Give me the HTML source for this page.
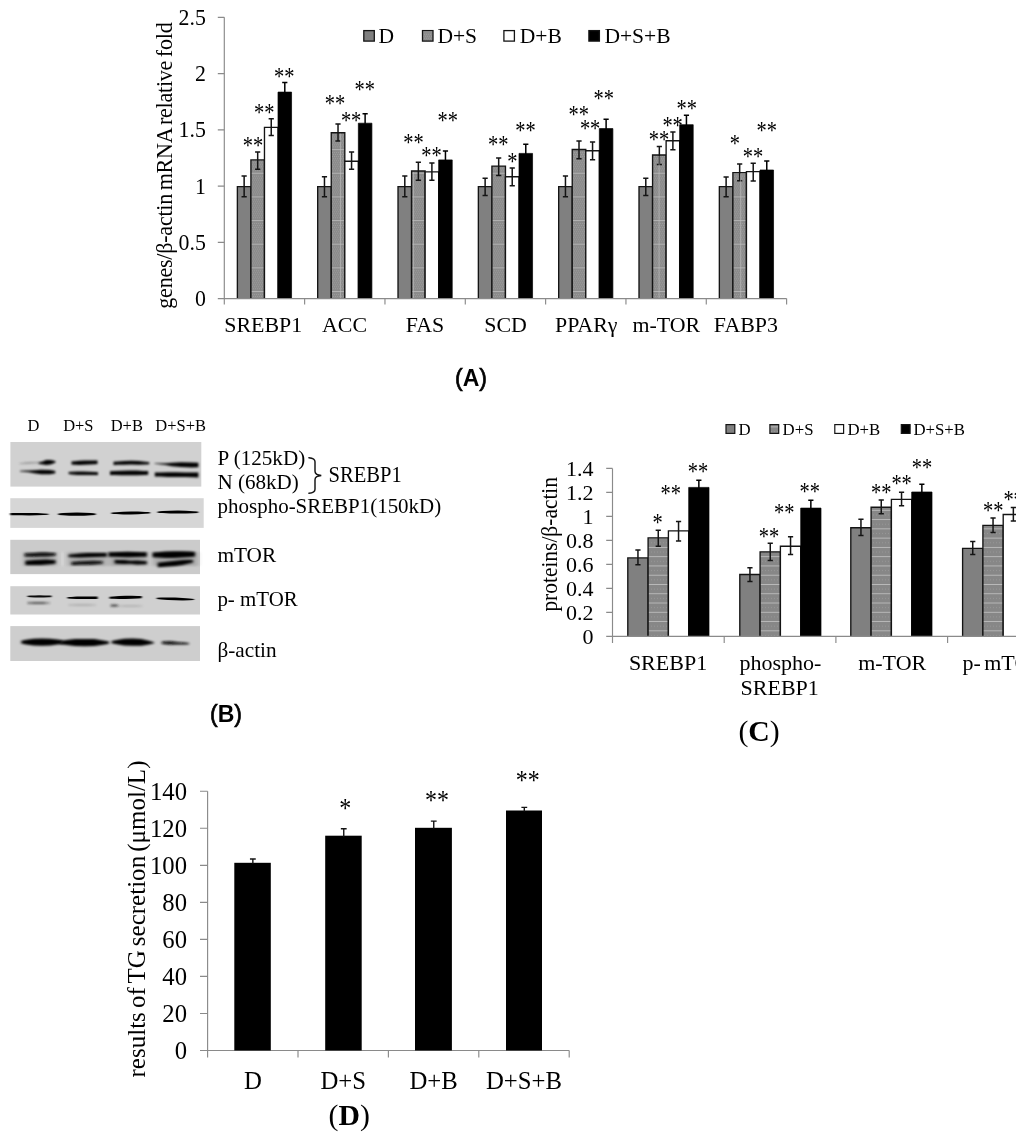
<!DOCTYPE html>
<html lang="en"><head><meta charset="utf-8"><title>Figure</title>
<style>
html,body{margin:0;padding:0;background:#fff;}
body{width:1024px;height:1135px;overflow:hidden;}
svg{display:block;}
text{font-family:"Liberation Serif","DejaVu Serif",serif;fill:#000;}
</style></head><body>
<svg width="1024" height="1135" viewBox="0 0 1024 1135">
<defs>
<pattern id="hA" x="0" y="7.2" width="2" height="23.65" patternUnits="userSpaceOnUse">
<rect width="2" height="23.65" fill="#8b8b8b"/>
<rect y="0" width="2" height="1" fill="#b2b2b2"/>
<path d="M0 3.5h1M1 5.5h1M0 7.5h1M1 9.5h1M0 11.5h1M1 13.5h1M0 15.5h1M1 17.5h1M0 19.5h1M1 21.5h1" stroke="#9c9c9c" stroke-width="1"/>
</pattern>
<pattern id="hC" x="0" y="0" width="3" height="9.27" patternUnits="userSpaceOnUse">
<rect width="3" height="9.27" fill="#878787"/>
<rect y="0" width="3" height="0.9" fill="#bcbcbc"/>
<rect x="0" y="4.6" width="1" height="1" fill="#969696"/>
</pattern>
<filter id="b1" x="-20%" y="-100%" width="140%" height="300%"><feGaussianBlur stdDeviation="1.25 0.85"/></filter>
<filter id="b2" x="-20%" y="-100%" width="140%" height="300%"><feGaussianBlur stdDeviation="1.5 1.0"/></filter>
<filter id="b4" x="-20%" y="-100%" width="140%" height="300%"><feGaussianBlur stdDeviation="1.0 0.6"/></filter>
<filter id="b3" x="-20%" y="-100%" width="140%" height="300%"><feGaussianBlur stdDeviation="2.5 1.0"/></filter>
</defs>
<rect width="1024" height="1135" fill="#fff"/>

<g id="panelA">
<text transform="translate(205.90,306.10) scale(0.975,1)" font-size="22.4" text-anchor="end">0</text>
<text transform="translate(205.90,249.85) scale(0.975,1)" font-size="22.4" text-anchor="end">0.5</text>
<text transform="translate(205.90,193.60) scale(0.975,1)" font-size="22.4" text-anchor="end">1</text>
<text transform="translate(205.90,137.35) scale(0.975,1)" font-size="22.4" text-anchor="end">1.5</text>
<text transform="translate(205.90,81.10) scale(0.975,1)" font-size="22.4" text-anchor="end">2</text>
<text transform="translate(205.90,24.85) scale(0.975,1)" font-size="22.4" text-anchor="end">2.5</text>
<path d="M237.37 298.60V186.60H250.92V298.60" fill="#808080" stroke="#141414" stroke-width="1.35"/>
<path d="M250.92 298.60V159.90H264.47V298.60" fill="url(#hA)" stroke="#141414" stroke-width="1.35"/>
<path d="M264.47 298.60V127.30H278.02V298.60" fill="#ffffff" stroke="#141414" stroke-width="1.35"/>
<path d="M278.01 298.60V92.10H291.56V298.60" fill="#000000" stroke="#000" stroke-width="0.7"/>
<path d="M244.14 175.90V196.80M241.54 175.90H246.74M241.54 196.80H246.74" stroke="#141414" stroke-width="1.5" fill="none"/>
<path d="M257.69 151.90V169.20M255.09 151.90H260.29M255.09 169.20H260.29" stroke="#141414" stroke-width="1.5" fill="none"/>
<path d="M271.24 118.70V135.60M268.64 118.70H273.84M268.64 135.60H273.84" stroke="#141414" stroke-width="1.5" fill="none"/>
<path d="M284.79 82.50V92.60M282.19 82.50H287.39" stroke="#000" stroke-width="1.5" fill="none"/>
<text transform="translate(263.20,331.90) scale(1.0,1)" font-size="21.9" text-anchor="middle">SREBP1</text>
<path d="M317.69 298.60V186.60H331.25V298.60" fill="#808080" stroke="#141414" stroke-width="1.35"/>
<path d="M331.25 298.60V132.70H344.80V298.60" fill="url(#hA)" stroke="#141414" stroke-width="1.35"/>
<path d="M344.80 298.60V161.20H358.35V298.60" fill="#ffffff" stroke="#141414" stroke-width="1.35"/>
<path d="M358.35 298.60V123.20H371.90V298.60" fill="#000000" stroke="#000" stroke-width="0.7"/>
<path d="M324.47 176.70V196.80M321.87 176.70H327.07M321.87 196.80H327.07" stroke="#141414" stroke-width="1.5" fill="none"/>
<path d="M338.02 124.10V141.10M335.42 124.10H340.62M335.42 141.10H340.62" stroke="#141414" stroke-width="1.5" fill="none"/>
<path d="M351.57 151.90V169.20M348.97 151.90H354.17M348.97 169.20H354.17" stroke="#141414" stroke-width="1.5" fill="none"/>
<path d="M365.12 113.80V123.70M362.52 113.80H367.72" stroke="#000" stroke-width="1.5" fill="none"/>
<text transform="translate(344.50,331.90) scale(1.0,1)" font-size="21.9" text-anchor="middle">ACC</text>
<path d="M398.02 298.60V186.60H411.57V298.60" fill="#808080" stroke="#141414" stroke-width="1.35"/>
<path d="M411.57 298.60V171.00H425.12V298.60" fill="url(#hA)" stroke="#141414" stroke-width="1.35"/>
<path d="M425.12 298.60V171.80H438.68V298.60" fill="#ffffff" stroke="#141414" stroke-width="1.35"/>
<path d="M438.67 298.60V159.90H452.22V298.60" fill="#000000" stroke="#000" stroke-width="0.7"/>
<path d="M404.80 175.90V196.80M402.20 175.90H407.40M402.20 196.80H407.40" stroke="#141414" stroke-width="1.5" fill="none"/>
<path d="M418.35 162.20V180.20M415.75 162.20H420.95M415.75 180.20H420.95" stroke="#141414" stroke-width="1.5" fill="none"/>
<path d="M431.90 163.00V180.20M429.30 163.00H434.50M429.30 180.20H434.50" stroke="#141414" stroke-width="1.5" fill="none"/>
<path d="M445.45 151.10V160.40M442.85 151.10H448.05" stroke="#000" stroke-width="1.5" fill="none"/>
<text transform="translate(425.00,331.90) scale(1.0,1)" font-size="21.9" text-anchor="middle">FAS</text>
<path d="M478.36 298.60V186.60H491.91V298.60" fill="#808080" stroke="#141414" stroke-width="1.35"/>
<path d="M491.91 298.60V166.10H505.46V298.60" fill="url(#hA)" stroke="#141414" stroke-width="1.35"/>
<path d="M505.46 298.60V176.70H519.00V298.60" fill="#ffffff" stroke="#141414" stroke-width="1.35"/>
<path d="M519.00 298.60V153.40H532.55V298.60" fill="#000000" stroke="#000" stroke-width="0.7"/>
<path d="M485.13 178.20V195.40M482.53 178.20H487.73M482.53 195.40H487.73" stroke="#141414" stroke-width="1.5" fill="none"/>
<path d="M498.68 158.10V175.50M496.08 158.10H501.28M496.08 175.50H501.28" stroke="#141414" stroke-width="1.5" fill="none"/>
<path d="M512.23 168.10V185.80M509.63 168.10H514.83M509.63 185.80H514.83" stroke="#141414" stroke-width="1.5" fill="none"/>
<path d="M525.78 144.30V153.90M523.18 144.30H528.38" stroke="#000" stroke-width="1.5" fill="none"/>
<text transform="translate(505.50,331.90) scale(1.0,1)" font-size="21.9" text-anchor="middle">SCD</text>
<path d="M558.68 298.60V186.60H572.23V298.60" fill="#808080" stroke="#141414" stroke-width="1.35"/>
<path d="M572.23 298.60V149.50H585.78V298.60" fill="url(#hA)" stroke="#141414" stroke-width="1.35"/>
<path d="M585.78 298.60V150.70H599.33V298.60" fill="#ffffff" stroke="#141414" stroke-width="1.35"/>
<path d="M599.33 298.60V128.60H612.88V298.60" fill="#000000" stroke="#000" stroke-width="0.7"/>
<path d="M565.46 175.90V196.80M562.86 175.90H568.06M562.86 196.80H568.06" stroke="#141414" stroke-width="1.5" fill="none"/>
<path d="M579.01 140.90V158.70M576.41 140.90H581.61M576.41 158.70H581.61" stroke="#141414" stroke-width="1.5" fill="none"/>
<path d="M592.56 141.90V159.80M589.96 141.90H595.16M589.96 159.80H595.16" stroke="#141414" stroke-width="1.5" fill="none"/>
<path d="M606.11 119.30V129.10M603.51 119.30H608.71" stroke="#000" stroke-width="1.5" fill="none"/>
<text transform="translate(586.20,331.90) scale(1.0,1)" font-size="21.9" text-anchor="middle">PPARγ</text>
<path d="M639.01 298.60V186.60H652.56V298.60" fill="#808080" stroke="#141414" stroke-width="1.35"/>
<path d="M652.56 298.60V155.00H666.11V298.60" fill="url(#hA)" stroke="#141414" stroke-width="1.35"/>
<path d="M666.12 298.60V140.70H679.66V298.60" fill="#ffffff" stroke="#141414" stroke-width="1.35"/>
<path d="M679.66 298.60V124.70H693.21V298.60" fill="#000000" stroke="#000" stroke-width="0.7"/>
<path d="M645.79 178.20V195.40M643.19 178.20H648.39M643.19 195.40H648.39" stroke="#141414" stroke-width="1.5" fill="none"/>
<path d="M659.34 146.40V164.50M656.74 146.40H661.94M656.74 164.50H661.94" stroke="#141414" stroke-width="1.5" fill="none"/>
<path d="M672.89 132.00V149.70M670.29 132.00H675.49M670.29 149.70H675.49" stroke="#141414" stroke-width="1.5" fill="none"/>
<path d="M686.44 115.20V125.20M683.84 115.20H689.04" stroke="#000" stroke-width="1.5" fill="none"/>
<text transform="translate(666.30,331.90) scale(1.0,1)" font-size="21.9" text-anchor="middle">m-TOR</text>
<path d="M719.35 298.60V186.60H732.89V298.60" fill="#808080" stroke="#141414" stroke-width="1.35"/>
<path d="M732.89 298.60V172.60H746.44V298.60" fill="url(#hA)" stroke="#141414" stroke-width="1.35"/>
<path d="M746.45 298.60V171.60H760.00V298.60" fill="#ffffff" stroke="#141414" stroke-width="1.35"/>
<path d="M760.00 298.60V170.00H773.54V298.60" fill="#000000" stroke="#000" stroke-width="0.7"/>
<path d="M726.12 176.90V196.80M723.52 176.90H728.72M723.52 196.80H728.72" stroke="#141414" stroke-width="1.5" fill="none"/>
<path d="M739.67 164.00V180.70M737.07 164.00H742.27M737.07 180.70H742.27" stroke="#141414" stroke-width="1.5" fill="none"/>
<path d="M753.22 163.20V180.90M750.62 163.20H755.82M750.62 180.90H755.82" stroke="#141414" stroke-width="1.5" fill="none"/>
<path d="M766.77 161.10V170.50M764.17 161.10H769.37" stroke="#000" stroke-width="1.5" fill="none"/>
<text transform="translate(745.90,331.90) scale(1.0,1)" font-size="21.9" text-anchor="middle">FABP3</text>
<path d="M340.6 133.7V298.1" stroke="#c0c0c0" stroke-width="0.8" opacity="0.75"/>
<path d="M413.6 172.0V298.1" stroke="#c0c0c0" stroke-width="0.8" opacity="0.75"/>
<path d="M659.1 156.0V298.1" stroke="#c0c0c0" stroke-width="0.8" opacity="0.75"/>
<path d="M740.7 173.6V298.1" stroke="#c0c0c0" stroke-width="0.8" opacity="0.75"/>
<path d="M224.3 17.35V304.6M217.8 298.6H786.61" stroke="#8a8a8a" stroke-width="1.15" fill="none"/>
<path d="M217.8 242.35H224.3M217.8 186.10H224.3M217.8 129.85H224.3M217.8 73.60H224.3M217.8 17.35H224.3M304.63 298.6V304.6M384.96 298.6V304.6M465.29 298.6V304.6M545.62 298.6V304.6M625.95 298.6V304.6M706.28 298.6V304.6M786.61 298.6V304.6" stroke="#8a8a8a" stroke-width="1.15" fill="none"/>
<text transform="translate(253.00,153.90) scale(0.787,1)" font-size="26" text-anchor="middle">**</text>
<text transform="translate(264.15,120.90) scale(0.787,1)" font-size="26" text-anchor="middle">**</text>
<text transform="translate(284.30,84.80) scale(0.787,1)" font-size="26" text-anchor="middle">**</text>
<text transform="translate(335.05,111.90) scale(0.787,1)" font-size="26" text-anchor="middle">**</text>
<text transform="translate(351.10,128.70) scale(0.787,1)" font-size="26" text-anchor="middle">**</text>
<text transform="translate(364.75,97.50) scale(0.787,1)" font-size="26" text-anchor="middle">**</text>
<text transform="translate(413.50,151.20) scale(0.787,1)" font-size="26" text-anchor="middle">**</text>
<text transform="translate(431.50,164.30) scale(0.787,1)" font-size="26" text-anchor="middle">**</text>
<text transform="translate(447.70,129.10) scale(0.787,1)" font-size="26" text-anchor="middle">**</text>
<text transform="translate(498.30,152.90) scale(0.787,1)" font-size="26" text-anchor="middle">**</text>
<text transform="translate(512.30,170.10) scale(0.787,1)" font-size="26" text-anchor="middle">*</text>
<text transform="translate(525.40,138.90) scale(0.787,1)" font-size="26" text-anchor="middle">**</text>
<text transform="translate(578.70,122.90) scale(0.787,1)" font-size="26" text-anchor="middle">**</text>
<text transform="translate(590.10,137.30) scale(0.787,1)" font-size="26" text-anchor="middle">**</text>
<text transform="translate(603.70,107.20) scale(0.787,1)" font-size="26" text-anchor="middle">**</text>
<text transform="translate(659.00,148.20) scale(0.787,1)" font-size="26" text-anchor="middle">**</text>
<text transform="translate(672.60,133.60) scale(0.787,1)" font-size="26" text-anchor="middle">**</text>
<text transform="translate(686.70,117.00) scale(0.787,1)" font-size="26" text-anchor="middle">**</text>
<text transform="translate(734.80,151.60) scale(0.787,1)" font-size="26" text-anchor="middle">*</text>
<text transform="translate(753.00,165.20) scale(0.787,1)" font-size="26" text-anchor="middle">**</text>
<text transform="translate(766.70,139.30) scale(0.787,1)" font-size="26" text-anchor="middle">**</text>
<rect x="363.8" y="30.6" width="10.5" height="10.5" fill="#808080" stroke="#141414" stroke-width="1.3"/>
<text transform="translate(378.60,43.10) scale(0.985,1)" font-size="21.9">D</text>
<rect x="422.5" y="30.6" width="10.5" height="10.5" fill="url(#hA)" stroke="#141414" stroke-width="1.3"/>
<text transform="translate(437.40,43.10) scale(0.985,1)" font-size="21.9">D+S</text>
<rect x="503.9" y="30.6" width="10.5" height="10.5" fill="#fff" stroke="#141414" stroke-width="1.3"/>
<text transform="translate(519.70,43.10) scale(0.985,1)" font-size="21.9">D+B</text>
<rect x="588.9" y="30.6" width="10.5" height="10.5" fill="#000" stroke="#141414" stroke-width="1.3"/>
<text transform="translate(604.40,43.10) scale(0.985,1)" font-size="21.9">D+S+B</text>
<text transform="translate(171.7,165.5) rotate(-90) scale(1,1.05)" text-anchor="middle" font-size="22.1" word-spacing="-1.6" textLength="286.4" lengthAdjust="spacing">genes/β-actin mRNA relative fold</text>
<text transform="translate(471.00,385.90) scale(0.97,1)" font-size="23.8" text-anchor="middle" style='font-family:"Liberation Sans", "DejaVu Sans", sans-serif' font-weight="bold"><tspan font-weight="normal" stroke="#000" stroke-width="0.7">(</tspan>A<tspan font-weight="normal" stroke="#000" stroke-width="0.7">)</tspan></text>
</g>
<g id="panelB">
<text transform="translate(33.40,430.80) scale(1.045,1)" font-size="15.8" text-anchor="middle">D</text>
<text transform="translate(78.35,430.80) scale(1.045,1)" font-size="15.8" text-anchor="middle">D+S</text>
<text transform="translate(126.80,430.80) scale(1.045,1)" font-size="15.8" text-anchor="middle">D+B</text>
<text transform="translate(180.65,430.80) scale(1.045,1)" font-size="15.8" text-anchor="middle">D+S+B</text>
<rect x="10.4" y="442.0" width="190.9" height="44.6" fill="#d1d1d1"/>
<rect x="10.3" y="498.2" width="193.4" height="29.7" fill="#d6d6d6"/>
<rect x="10.3" y="539.8" width="189.7" height="34.3" fill="#cbcbcb"/>
<rect x="10.3" y="586.2" width="189.7" height="28.3" fill="#d0d0d0"/>
<rect x="10.3" y="626.1" width="189.7" height="34.9" fill="#cecece"/>
<polygon points="19.3,463.2 22.0,463.0 26.1,462.6 30.6,462.3 35.2,462.2 39.3,462.1 42.0,462.0 42.0,463.2 39.3,463.3 35.2,463.3 30.6,463.5 26.1,463.7 22.0,463.8 19.3,463.8" fill="#444" opacity="0.55" filter="url(#b1)"/>
<polygon points="38.5,462.9 41.9,461.7 46.1,460.1 50.4,460.0 53.8,460.7 55.5,461.3 55.5,462.5 53.8,463.3 50.4,464.4 46.1,464.9 41.9,464.3 38.5,463.7" fill="#000" opacity="1.0" filter="url(#b1)"/>
<polygon points="19.9,470.7 28.8,470.6 34.1,470.2 41.1,469.8 50.0,470.0 55.3,471.0 55.3,473.2 50.0,474.2 41.1,474.2 34.1,473.2 28.8,472.2 19.9,471.5" fill="#000" opacity="1.0" filter="url(#b1)"/>
<polygon points="71.5,461.6 74.6,461.2 79.3,460.7 84.5,460.4 89.7,460.4 94.4,460.5 97.5,460.5 97.5,464.1 94.4,464.2 89.7,464.6 84.5,464.8 79.3,464.9 74.6,464.8 71.5,464.6" fill="#000" opacity="1.0" filter="url(#b1)"/>
<polygon points="68.6,472.0 72.1,471.8 77.4,471.5 83.3,471.5 89.2,471.7 94.5,472.0 98.0,472.2 98.0,475.0 94.5,475.1 89.2,475.1 83.3,475.1 77.4,474.9 72.1,474.4 68.6,474.0" fill="#000" opacity="1.0" filter="url(#b1)"/>
<polygon points="113.5,461.7 117.8,461.5 124.2,461.1 131.4,460.8 138.6,461.0 145.0,461.7 149.3,462.2 149.3,464.2 145.0,464.5 138.6,464.8 131.4,464.6 124.2,464.8 117.8,464.8 113.5,464.9" fill="#000" opacity="1.0" filter="url(#b1)"/>
<polygon points="110.0,471.3 114.6,471.1 121.5,470.7 129.1,470.5 136.7,470.6 143.6,470.9 148.2,471.0 148.2,474.8 143.6,474.9 136.7,475.2 129.1,475.3 121.5,475.3 114.6,475.0 110.0,474.9" fill="#000" opacity="1.0" filter="url(#b1)"/>
<polygon points="154.5,463.2 165.5,463.3 172.1,462.7 180.8,462.3 191.8,462.4 198.4,462.8 198.4,467.2 191.8,467.4 180.8,467.1 172.1,466.3 165.5,464.9 154.5,463.8" fill="#000" opacity="1.0" filter="url(#b1)"/>
<polygon points="154.8,472.4 160.0,472.4 167.9,472.3 176.6,472.3 185.3,472.5 193.2,472.5 198.4,472.6 198.4,477.4 193.2,477.3 185.3,477.1 176.6,477.1 167.9,476.9 160.0,476.6 154.8,476.4" fill="#000" opacity="1.0" filter="url(#b1)"/>
<polygon points="10.3,513.1 14.9,513.1 21.7,513.1 29.3,513.0 37.0,513.1 43.8,513.4 48.4,513.7 48.4,514.7 43.8,515.0 37.0,515.3 29.3,515.4 21.7,515.3 14.9,515.3 10.3,515.3" fill="#000" opacity="1.0" filter="url(#b4)"/>
<polygon points="58.3,513.4 62.8,513.1 69.5,512.7 76.9,512.6 84.4,512.7 91.1,513.1 95.6,513.4 95.6,515.0 91.1,515.3 84.4,515.7 76.9,515.8 69.5,515.7 62.8,515.3 58.3,515.0" fill="#000" opacity="1.0" filter="url(#b4)"/>
<polygon points="111.6,512.5 116.2,512.2 123.1,511.8 130.8,511.6 138.4,511.6 145.3,511.9 149.9,512.1 149.9,513.5 145.3,513.8 138.4,514.2 130.8,514.4 123.1,514.4 116.2,514.1 111.6,513.9" fill="#000" opacity="1.0" filter="url(#b4)"/>
<polygon points="157.7,511.4 162.5,511.1 169.8,510.7 177.9,510.6 186.0,510.8 193.3,511.2 198.1,511.6 198.1,513.1 193.3,513.3 186.0,513.6 177.9,513.6 169.8,513.5 162.5,513.1 157.7,512.9" fill="#000" opacity="1.0" filter="url(#b4)"/>
<rect x="24" y="552" width="32" height="14" fill="#555" opacity="0.28" filter="url(#b3)"/>
<rect x="68" y="552" width="39" height="14" fill="#555" opacity="0.28" filter="url(#b3)"/>
<rect x="109" y="552" width="38" height="14" fill="#555" opacity="0.28" filter="url(#b3)"/>
<rect x="153" y="552" width="45" height="14" fill="#555" opacity="0.28" filter="url(#b3)"/>
<polygon points="24.6,553.4 28.3,553.2 33.9,552.9 40.1,552.6 46.3,552.6 51.9,552.9 55.6,553.1 55.6,555.5 51.9,555.9 46.3,556.4 40.1,556.6 33.9,556.7 28.3,556.6 24.6,556.6" fill="#0a0a0a" opacity="1.0" filter="url(#b2)"/>
<polygon points="25.4,560.7 29.0,560.5 34.5,560.0 40.5,559.7 46.5,559.6 52.0,559.9 55.6,560.2 55.6,563.4 52.0,563.9 46.5,564.6 40.5,564.9 34.5,565.0 29.0,564.9 25.4,564.9" fill="#000" opacity="1.0" filter="url(#b2)"/>
<polygon points="68.5,554.8 73.1,554.2 80.0,553.4 87.7,553.1 95.3,553.0 102.2,553.0 106.8,552.9 106.8,556.7 102.2,556.8 95.3,557.0 87.7,557.3 80.0,557.4 73.1,557.2 68.5,556.9" fill="#000" opacity="1.0" filter="url(#b2)"/>
<polygon points="71.6,561.9 75.3,561.7 80.9,561.2 87.2,560.9 93.4,560.8 99.0,561.1 102.7,561.3 102.7,563.5 99.0,563.9 93.4,564.4 87.2,564.7 80.9,564.8 75.3,564.9 71.6,564.9" fill="#0a0a0a" opacity="1.0" filter="url(#b2)"/>
<polygon points="108.5,552.3 113.1,552.2 120.0,551.9 127.7,551.8 135.3,551.9 142.2,552.2 146.8,552.3 146.8,556.7 142.2,556.8 135.3,557.1 127.7,557.2 120.0,557.1 113.1,556.8 108.5,556.7" fill="#000" opacity="1.0" filter="url(#b2)"/>
<polygon points="114.6,559.8 118.5,559.9 124.3,560.0 130.7,560.7 137.1,560.4 142.9,560.9 146.8,561.2 146.8,564.2 142.9,564.3 137.1,564.4 130.7,563.7 124.3,564.0 118.5,563.7 114.6,563.6" fill="#000" opacity="1.0" filter="url(#b2)"/>
<polygon points="152.6,552.6 157.7,552.2 165.3,551.6 173.8,551.3 182.3,551.3 189.9,551.6 195.0,551.9 195.0,556.5 189.9,556.9 182.3,557.6 173.8,557.9 165.3,557.9 157.7,557.5 152.6,557.2" fill="#000" opacity="1.0" filter="url(#b2)"/>
<polygon points="157.7,562.7 161.9,562.3 168.3,561.6 175.3,560.8 182.4,560.0 188.8,559.8 193.0,559.9 193.0,562.5 188.8,563.5 182.4,565.0 175.3,566.0 168.3,566.5 161.9,567.0 157.7,567.3" fill="#000" opacity="1.0" filter="url(#b2)"/>
<rect x="61.7" y="552" width="1.6" height="14" fill="#e6e6e6" opacity="0.6" filter="url(#b1)"/>
<polygon points="27.5,595.7 30.4,595.6 34.7,595.4 39.5,595.3 44.3,595.4 48.6,595.5 51.5,595.6 51.5,597.2 48.6,597.3 44.3,597.4 39.5,597.5 34.7,597.4 30.4,597.2 27.5,597.1" fill="#000" opacity="0.95" filter="url(#b4)"/>
<polygon points="27.5,602.2 30.2,602.2 34.4,602.1 39.0,602.1 43.5,602.1 47.7,602.5 50.4,602.7 50.4,603.3 47.7,603.5 43.5,603.9 39.0,603.9 34.4,603.9 30.2,603.8 27.5,603.8" fill="#222" opacity="0.7" filter="url(#b1)"/>
<polygon points="67.5,597.1 71.1,596.9 76.5,596.6 82.5,596.5 88.6,596.6 94.0,596.6 97.6,596.6 97.6,599.0 94.0,599.0 88.6,599.0 82.5,599.1 76.5,599.0 71.1,598.7 67.5,598.4" fill="#000" opacity="1.0" filter="url(#b4)"/>
<polygon points="68.5,604.4 71.9,604.4 76.9,604.3 82.5,604.3 88.1,604.3 93.1,604.6 96.5,604.8 96.5,605.2 93.1,605.4 88.1,605.7 82.5,605.7 76.9,605.7 71.9,605.6 68.5,605.6" fill="#555" opacity="0.35" filter="url(#b1)"/>
<polygon points="109.5,596.7 113.4,596.4 119.2,596.0 125.6,595.8 132.0,595.8 137.8,596.0 141.7,596.1 141.7,598.3 137.8,598.5 132.0,598.8 125.6,599.0 119.2,599.0 113.4,598.8 109.5,598.7" fill="#000" opacity="1.0" filter="url(#b4)"/>
<polygon points="110.5,604.7 111.5,604.7 112.9,604.6 114.5,604.5 116.1,604.6 117.5,604.9 118.5,605.2 118.5,606.0 117.5,606.3 116.1,606.6 114.5,606.7 112.9,606.6 111.5,606.5 110.5,606.5" fill="#222" opacity="0.8" filter="url(#b1)"/>
<polygon points="118.0,605.6 121.0,605.4 125.5,605.2 130.5,605.2 135.5,605.2 140.0,605.5 143.0,605.8 143.0,606.2 140.0,606.5 135.5,606.8 130.5,606.8 125.5,606.8 121.0,606.6 118.0,606.4" fill="#666" opacity="0.35" filter="url(#b1)"/>
<polygon points="156.7,597.7 161.2,597.6 167.9,597.4 175.3,597.5 182.8,597.9 189.5,598.6 194.0,599.1 194.0,600.1 189.5,600.3 182.8,600.5 175.3,600.2 167.9,600.0 161.2,599.4 156.7,599.1" fill="#000" opacity="1.0" filter="url(#b4)"/>
<polygon points="21.3,640.7 26.2,639.8 33.7,638.7 41.9,638.5 50.1,638.7 57.6,639.6 62.5,640.3 62.5,643.9 57.6,644.6 50.1,645.5 41.9,645.7 33.7,645.5 26.2,644.4 21.3,643.5" fill="#000" opacity="1.0" filter="url(#b2)"/>
<polygon points="60.5,640.9 66.3,640.1 75.0,639.1 84.7,638.9 94.4,639.1 103.1,640.4 108.9,641.5 108.9,643.7 103.1,644.8 94.4,646.1 84.7,646.3 75.0,646.1 66.3,645.1 60.5,644.3" fill="#000" opacity="1.0" filter="url(#b2)"/>
<polygon points="111.6,641.0 116.7,639.9 124.3,638.7 132.8,638.5 141.3,638.9 148.9,640.7 154.0,642.2 154.0,643.2 148.9,644.5 141.3,645.8 132.8,645.7 124.3,645.5 116.7,644.3 111.6,643.2" fill="#000" opacity="1.0" filter="url(#b2)"/>
<polygon points="161.8,641.4 170.0,641.1 178.1,641.9 184.9,642.4 189.0,643.0 189.0,644.2 184.9,644.6 178.1,644.5 170.0,644.7 161.8,644.0" fill="#0a0a0a" opacity="0.95" filter="url(#b2)"/>
<text transform="translate(217.40,464.90) scale(1.045,1)" font-size="21.4" textLength="84.02" lengthAdjust="spacingAndGlyphs">P (125kD)</text>
<text transform="translate(217.40,489.30) scale(1.045,1)" font-size="21.4" textLength="77.89" lengthAdjust="spacingAndGlyphs">N (68kD)</text>
<text transform="translate(328.60,481.80) scale(1.045,1)" font-size="22.3" textLength="70.05" lengthAdjust="spacingAndGlyphs">SREBP1</text>
<text transform="translate(217.60,513.10) scale(1.045,1)" font-size="21.4" textLength="213.97" lengthAdjust="spacingAndGlyphs">phospho-SREBP1(150kD)</text>
<text transform="translate(217.40,561.80) scale(1.045,1)" font-size="21.4" textLength="56.27" lengthAdjust="spacingAndGlyphs">mTOR</text>
<text transform="translate(217.40,605.80) scale(1.045,1)" font-size="21.4" textLength="76.94" lengthAdjust="spacingAndGlyphs">p- mTOR</text>
<text transform="translate(217.40,656.60) scale(1.045,1)" font-size="21.4" textLength="56.65" lengthAdjust="spacingAndGlyphs">β-actin</text>
<path d="M308.9 457.7 Q315 458.2 315 461.8 V471.3 Q315 475 321.3 475.5 Q315 476 315 479.7 V489.2 Q315 492.8 308.9 493.3" stroke="#141414" stroke-width="1.45" fill="none" stroke-linecap="round"/>
<text transform="translate(226.00,722.00) scale(0.97,1)" font-size="23.8" text-anchor="middle" style='font-family:"Liberation Sans", "DejaVu Sans", sans-serif' font-weight="bold"><tspan font-weight="normal" stroke="#000" stroke-width="0.7">(</tspan>B<tspan font-weight="normal" stroke="#000" stroke-width="0.7">)</tspan></text>
</g>
<g id="panelC"><clipPath id="clipC"><rect x="0" y="400" width="1016" height="360"/></clipPath><g clip-path="url(#clipC)">
<text transform="translate(593.40,643.60) scale(1.02,1)" font-size="21.6" text-anchor="end">0</text>
<text transform="translate(593.40,619.60) scale(1.02,1)" font-size="21.6" text-anchor="end">0.2</text>
<text transform="translate(593.40,595.60) scale(1.02,1)" font-size="21.6" text-anchor="end">0.4</text>
<text transform="translate(593.40,571.60) scale(1.02,1)" font-size="21.6" text-anchor="end">0.6</text>
<text transform="translate(593.40,547.60) scale(1.02,1)" font-size="21.6" text-anchor="end">0.8</text>
<text transform="translate(593.40,523.60) scale(1.02,1)" font-size="21.6" text-anchor="end">1</text>
<text transform="translate(593.40,499.60) scale(1.02,1)" font-size="21.6" text-anchor="end">1.2</text>
<text transform="translate(593.40,475.60) scale(1.02,1)" font-size="21.6" text-anchor="end">1.4</text>
<path d="M627.80 636.40V557.90H648.10V636.40" fill="#808080" stroke="#141414" stroke-width="1.35"/>
<path d="M648.10 636.40V537.80H668.40V636.40" fill="url(#hC)" stroke="#141414" stroke-width="1.35"/>
<path d="M668.40 636.40V530.90H688.70V636.40" fill="#ffffff" stroke="#141414" stroke-width="1.35"/>
<path d="M688.70 636.40V487.40H709.00V636.40" fill="#000000" stroke="#000" stroke-width="0.7"/>
<path d="M637.95 550.10V564.70M635.35 550.10H640.55M635.35 564.70H640.55" stroke="#141414" stroke-width="1.5" fill="none"/>
<path d="M658.25 530.20V546.30M655.65 530.20H660.85M655.65 546.30H660.85" stroke="#141414" stroke-width="1.5" fill="none"/>
<path d="M678.55 521.40V540.90M675.95 521.40H681.15M675.95 540.90H681.15" stroke="#141414" stroke-width="1.5" fill="none"/>
<path d="M698.85 480.30V487.90M696.25 480.30H701.45" stroke="#000" stroke-width="1.5" fill="none"/>
<path d="M739.80 636.40V574.50H760.10V636.40" fill="#808080" stroke="#141414" stroke-width="1.35"/>
<path d="M760.10 636.40V551.80H780.40V636.40" fill="url(#hC)" stroke="#141414" stroke-width="1.35"/>
<path d="M780.40 636.40V546.20H800.70V636.40" fill="#ffffff" stroke="#141414" stroke-width="1.35"/>
<path d="M800.70 636.40V508.10H821.00V636.40" fill="#000000" stroke="#000" stroke-width="0.7"/>
<path d="M749.95 567.70V581.50M747.35 567.70H752.55M747.35 581.50H752.55" stroke="#141414" stroke-width="1.5" fill="none"/>
<path d="M770.25 543.20V560.40M767.65 543.20H772.85M767.65 560.40H772.85" stroke="#141414" stroke-width="1.5" fill="none"/>
<path d="M790.55 536.80V554.50M787.95 536.80H793.15M787.95 554.50H793.15" stroke="#141414" stroke-width="1.5" fill="none"/>
<path d="M810.85 500.30V508.60M808.25 500.30H813.45" stroke="#000" stroke-width="1.5" fill="none"/>
<path d="M850.80 636.40V527.70H871.10V636.40" fill="#808080" stroke="#141414" stroke-width="1.35"/>
<path d="M871.10 636.40V507.20H891.40V636.40" fill="url(#hC)" stroke="#141414" stroke-width="1.35"/>
<path d="M891.40 636.40V499.30H911.70V636.40" fill="#ffffff" stroke="#141414" stroke-width="1.35"/>
<path d="M911.70 636.40V492.00H932.00V636.40" fill="#000000" stroke="#000" stroke-width="0.7"/>
<path d="M860.95 519.20V535.40M858.35 519.20H863.55M858.35 535.40H863.55" stroke="#141414" stroke-width="1.5" fill="none"/>
<path d="M881.25 500.10V513.70M878.65 500.10H883.85M878.65 513.70H883.85" stroke="#141414" stroke-width="1.5" fill="none"/>
<path d="M901.55 492.20V505.70M898.95 492.20H904.15M898.95 505.70H904.15" stroke="#141414" stroke-width="1.5" fill="none"/>
<path d="M921.85 484.20V492.50M919.25 484.20H924.45" stroke="#000" stroke-width="1.5" fill="none"/>
<path d="M962.60 636.40V548.40H982.90V636.40" fill="#808080" stroke="#141414" stroke-width="1.35"/>
<path d="M982.90 636.40V525.30H1003.20V636.40" fill="url(#hC)" stroke="#141414" stroke-width="1.35"/>
<path d="M1003.20 636.40V514.50H1023.50V636.40" fill="#ffffff" stroke="#141414" stroke-width="1.35"/>
<path d="M1023.50 636.40V500.50H1043.80V636.40" fill="#000000" stroke="#000" stroke-width="0.7"/>
<path d="M972.75 541.50V554.50M970.15 541.50H975.35M970.15 554.50H975.35" stroke="#141414" stroke-width="1.5" fill="none"/>
<path d="M993.05 517.90V532.50M990.45 517.90H995.65M990.45 532.50H995.65" stroke="#141414" stroke-width="1.5" fill="none"/>
<path d="M1013.35 507.40V521.10M1010.75 507.40H1015.95M1010.75 521.10H1015.95" stroke="#141414" stroke-width="1.5" fill="none"/>
<path d="M1033.65 493.70V501.00M1031.05 493.70H1036.25" stroke="#000" stroke-width="1.5" fill="none"/>
<path d="M612.5 468.40V642.9M606.2 636.4H1030" stroke="#8a8a8a" stroke-width="1.15" fill="none"/>
<path d="M606.2 612.40H612.5M606.2 588.40H612.5M606.2 564.40H612.5M606.2 540.40H612.5M606.2 516.40H612.5M606.2 492.40H612.5M606.2 468.40H612.5M724.20 636.4V642.9M835.90 636.4V642.9M947.60 636.4V642.9" stroke="#8a8a8a" stroke-width="1.15" fill="none"/>
<text transform="translate(668.00,670.20) scale(1.0,1)" font-size="22" text-anchor="middle">SREBP1</text>
<text transform="translate(780.40,670.20) scale(1.0,1)" font-size="22" text-anchor="middle">phospho-</text>
<text transform="translate(779.70,694.60) scale(1.0,1)" font-size="22" text-anchor="middle">SREBP1</text>
<text transform="translate(892.20,670.00) scale(1.0,1)" font-size="22" text-anchor="middle">m-TOR</text>
<text transform="translate(962.60,670.00) scale(1.0,1)" font-size="22" word-spacing="-2.2">p- mTOR</text>
<text transform="translate(657.70,531.40) scale(0.787,1)" font-size="26" text-anchor="middle">*</text>
<text transform="translate(670.80,502.10) scale(0.787,1)" font-size="26" text-anchor="middle">**</text>
<text transform="translate(697.90,479.60) scale(0.787,1)" font-size="26" text-anchor="middle">**</text>
<text transform="translate(769.00,544.50) scale(0.787,1)" font-size="26" text-anchor="middle">**</text>
<text transform="translate(784.20,521.40) scale(0.787,1)" font-size="26" text-anchor="middle">**</text>
<text transform="translate(809.70,500.20) scale(0.787,1)" font-size="26" text-anchor="middle">**</text>
<text transform="translate(881.20,500.80) scale(0.787,1)" font-size="26" text-anchor="middle">**</text>
<text transform="translate(901.60,492.10) scale(0.787,1)" font-size="26" text-anchor="middle">**</text>
<text transform="translate(922.00,476.10) scale(0.787,1)" font-size="26" text-anchor="middle">**</text>
<text transform="translate(993.30,518.90) scale(0.787,1)" font-size="26" text-anchor="middle">**</text>
<text transform="translate(1013.60,507.50) scale(0.787,1)" font-size="26" text-anchor="middle">**</text>
<rect x="726.0" y="424.6" width="8.8" height="8.8" fill="#808080" stroke="#141414" stroke-width="1.2"/>
<text transform="translate(738.60,435.40) scale(0.96,1)" font-size="17.5">D</text>
<rect x="769.9" y="424.6" width="8.8" height="8.8" fill="url(#hC)" stroke="#141414" stroke-width="1.2"/>
<text transform="translate(782.60,435.40) scale(0.96,1)" font-size="17.5">D+S</text>
<rect x="834.8" y="424.6" width="8.8" height="8.8" fill="#fff" stroke="#141414" stroke-width="1.2"/>
<text transform="translate(847.50,435.40) scale(0.96,1)" font-size="17.5">D+B</text>
<rect x="901.3" y="424.6" width="8.8" height="8.8" fill="#000" stroke="#141414" stroke-width="1.2"/>
<text transform="translate(913.40,435.40) scale(0.96,1)" font-size="17.5">D+S+B</text>
<text transform="translate(556.9,544.3) rotate(-90) scale(1,1.045)" text-anchor="middle" font-size="21.45" textLength="134.6" lengthAdjust="spacingAndGlyphs">proteins/β-actin</text>
<text transform="translate(759.10,741.20) scale(1.02,1)" font-size="29.2" text-anchor="middle">(<tspan font-weight="bold">C</tspan>)</text>
</g></g>
<g id="panelD">
<path d="M207.6 791.22V1050.5H569.20" stroke="#8a8a8a" stroke-width="1.15" fill="none"/>
<path d="M200.0 1050.50H207.6M200.0 1013.46H207.6M200.0 976.42H207.6M200.0 939.38H207.6M200.0 902.34H207.6M200.0 865.30H207.6M200.0 828.26H207.6M200.0 791.22H207.6M207.60 1050.5V1057.5M298.00 1050.5V1057.5M388.40 1050.5V1057.5M478.80 1050.5V1057.5M569.20 1050.5V1057.5" stroke="#8a8a8a" stroke-width="1.15" fill="none"/>
<text transform="translate(187.00,1059.30) scale(1.016,1)" font-size="24.3" text-anchor="end">0</text>
<text transform="translate(187.00,1022.26) scale(1.016,1)" font-size="24.3" text-anchor="end">20</text>
<text transform="translate(187.00,985.22) scale(1.016,1)" font-size="24.3" text-anchor="end">40</text>
<text transform="translate(187.00,948.18) scale(1.016,1)" font-size="24.3" text-anchor="end">60</text>
<text transform="translate(187.00,911.14) scale(1.016,1)" font-size="24.3" text-anchor="end">80</text>
<text transform="translate(187.00,874.10) scale(1.016,1)" font-size="24.3" text-anchor="end">100</text>
<text transform="translate(187.00,837.06) scale(1.016,1)" font-size="24.3" text-anchor="end">120</text>
<text transform="translate(187.00,800.02) scale(1.016,1)" font-size="24.3" text-anchor="end">140</text>
<rect x="234.30" y="862.80" width="36.50" height="187.70" fill="#000"/>
<path d="M252.85 859.00V863.80M249.95 859.00H255.75" stroke="#141414" stroke-width="1.4" fill="none"/>
<text transform="translate(252.80,1088.60) scale(0.99,1)" font-size="25.0" text-anchor="middle">D</text>
<rect x="325.20" y="835.70" width="36.50" height="214.80" fill="#000"/>
<path d="M343.75 828.70V836.70M340.85 828.70H346.65" stroke="#141414" stroke-width="1.4" fill="none"/>
<text transform="translate(343.20,1088.60) scale(0.99,1)" font-size="25.0" text-anchor="middle">D+S</text>
<rect x="415.00" y="827.80" width="36.90" height="222.70" fill="#000"/>
<path d="M433.75 821.10V828.80M430.85 821.10H436.65" stroke="#141414" stroke-width="1.4" fill="none"/>
<text transform="translate(433.60,1088.60) scale(0.99,1)" font-size="25.0" text-anchor="middle">D+B</text>
<rect x="506.00" y="810.50" width="36.00" height="240.00" fill="#000"/>
<path d="M524.30 807.40V811.50M521.40 807.40H527.20" stroke="#141414" stroke-width="1.4" fill="none"/>
<text transform="translate(524.00,1088.60) scale(0.99,1)" font-size="25.0" text-anchor="middle">D+S+B</text>
<text transform="translate(345.30,816.70) scale(0.87,1)" font-size="27.5" text-anchor="middle">*</text>
<text transform="translate(437.00,808.80) scale(0.87,1)" font-size="27.5" text-anchor="middle">**</text>
<text transform="translate(527.80,789.20) scale(0.87,1)" font-size="27.5" text-anchor="middle">**</text>
<text transform="translate(144.5,919.0) rotate(-90) scale(1,1.01)" text-anchor="middle" font-size="25.05" word-spacing="-2.2">results of TG secretion (μmol/L)</text>
<text transform="translate(349.20,1124.80) scale(1.02,1)" font-size="29.2" text-anchor="middle">(<tspan font-weight="bold">D</tspan>)</text>
</g>
</svg></body></html>
